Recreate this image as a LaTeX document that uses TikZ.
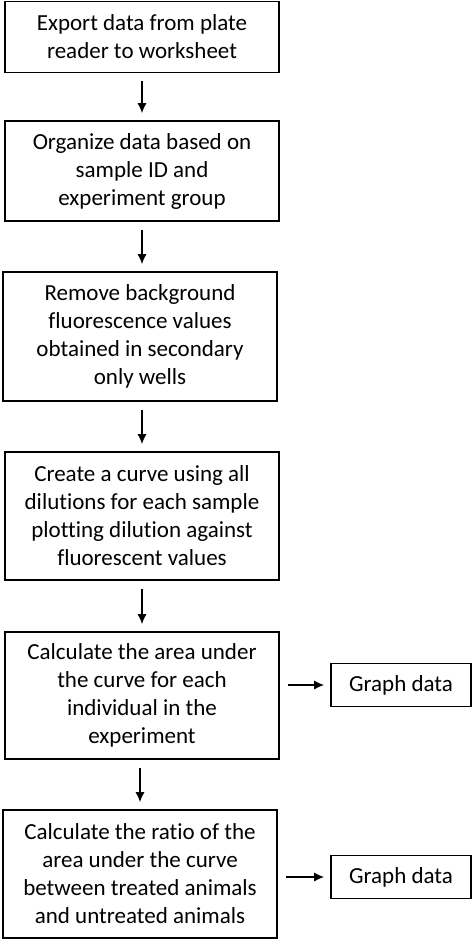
\documentclass[tikz,border=0pt]{standalone}
\usepackage{fontspec}
\setmainfont{Carlito}[Ligatures=CommonOff]
\usetikzlibrary{arrows.meta, positioning}

\tikzset{
  stepbox/.style={draw, line width=1.6pt, align=center, minimum width=274pt, inner sep=0pt, font=\fontsize{23}{28}\selectfont},
  graphbox/.style={draw, line width=1.6pt, minimum width=140pt, minimum height=43pt, inner sep=0pt, font=\fontsize{23}{28}\selectfont},
  flow/.style={-{Latex[length=10pt,width=9pt]}, line width=1.4pt, shorten <=8pt, shorten >=7pt}
}

\begin{document}
\begin{tikzpicture}[x=1pt, y=-1pt]
    \useasboundingbox (0,0) rectangle (474,940);
    % main column
    \node [stepbox, minimum height=71pt] (Export) at (142, 37) {Export data from plate\\reader to worksheet};
    \node [stepbox, minimum height=100pt] (Organize) at (142, 171) {Organize data based on\\sample ID and\\experiment group};
    \node [stepbox, minimum height=129pt] (Remove) at (140, 336.5) {Remove background\\fluorescence values\\obtained in secondary\\only wells};
    \node [stepbox, minimum height=128pt] (Curve) at (142, 516) {Create a curve using all\\dilutions for each sample\\plotting dilution against\\fluorescent values};
    \node [stepbox, minimum height=127pt] (Area) at (142, 695.5) {Calculate the area under\\the curve for each\\individual in the\\experiment};
    \node [stepbox, minimum height=128pt] (Ratio) at (140, 874) {Calculate the ratio of the\\area under the curve\\between treated animals\\and untreated animals};
    % side boxes
    \node [graphbox] (GraphA) at (401, 685) {Graph data};
    \node [graphbox] (GraphB) at (401, 877) {Graph data};
    % arrows
    \draw [flow] (Export) -- (Organize);
    \draw [flow] (Organize.south) -- (Organize.south |- Remove.north);
    \draw [flow] (Remove.south -| Curve.south) -- (Curve.north);
    \draw [flow] (Curve) -- (Area);
    \draw [flow] (Area.south -| Ratio.south) -- (Ratio.north);
    \draw [flow, shorten >=6pt] (Area.east |- GraphA) -- (GraphA.west);
    \draw [flow, shorten >=6pt] (Ratio.east |- GraphB) -- (GraphB.west);
\end{tikzpicture}
\end{document}
